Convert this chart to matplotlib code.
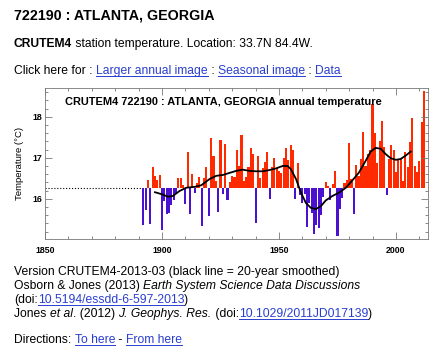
import numpy as np
import matplotlib
matplotlib.use('Agg')
import matplotlib.pyplot as plt
from matplotlib.ticker import MultipleLocator

plt.rcParams['font.family'] = ['Liberation Sans', 'DejaVu Sans']

# annual temperature, Atlanta (deg C), 1892-2012
years = list(range(1892, 2013))
temps = [
    15.35, 15.72, 16.46, 15.38, 16.77, 16.55, 16.45, 16.58,              # 1892-1899
    15.24, 15.95, 15.62, 15.65, 15.84, 15.98, 16.12, 16.50, 16.50, 16.33,  # 1900-1909
    15.88, 17.14, 15.62, 16.61, 16.15, 16.38, 16.52, 15.34, 16.51, 16.77,  # 1910-1919
    15.59, 17.48, 17.05, 16.44, 15.67, 17.44, 16.12, 17.33, 15.96, 16.40,  # 1920-1929
    16.55, 16.52, 17.20, 16.80, 17.55, 16.44, 16.52, 16.77, 17.24, 17.09,  # 1930-1939
    15.41, 17.04, 16.50, 16.75, 16.89, 17.13, 16.00, 16.77, 17.00, 16.74,  # 1940-1949
    16.68, 16.62, 17.00, 17.23, 16.95, 17.32, 17.20, 16.00, 16.86, 16.10,  # 1950-1959
    15.90, 16.12, 15.32, 15.90, 15.65, 15.14, 15.37, 15.30, 15.61, 16.05,  # 1960-1969
    16.40, 16.31, 15.98, 16.35, 16.68, 15.10, 15.74, 16.02, 16.38, 16.45,  # 1970-1979
    17.36, 16.48, 15.63, 16.82, 16.56, 16.97, 17.63, 16.81, 17.09, 17.20,  # 1980-1989
    18.30, 17.61, 16.87, 17.42, 17.89, 17.26, 16.10, 16.97, 17.30, 17.18,  # 1990-1999
    16.66, 16.97, 17.00, 16.44, 17.14, 16.77, 17.38, 17.96, 16.80, 16.66,  # 2000-2009
    16.93, 17.88, 18.63,                                                  # 2010-2012
]

# 20-year smoothed curve
smooth_years = [1897, 1900, 1902.6, 1904.7, 1907.5, 1910.4, 1913.9, 1916.8, 1920.3,
                1923.2, 1926, 1928.8, 1931.7, 1934.5, 1937.4, 1940.2, 1943, 1945.9,
                1948.7, 1951.6, 1953.7, 1955.1, 1957.3, 1959.4, 1961.5, 1963.6,
                1965.8, 1967.9, 1970, 1972.9, 1975.7, 1978.6, 1981.4, 1984.2,
                1987.1, 1989.2, 1991.3, 1993.5, 1995.6, 1997.7, 1999.9, 2002,
                2004.1, 2006.3]
smooth_temps = [16.16, 16.11, 16.05, 16.07, 16.19, 16.27, 16.29, 16.33, 16.48,
                16.56, 16.58, 16.63, 16.68, 16.71, 16.68, 16.67, 16.67, 16.70,
                16.74, 16.80, 16.80, 16.72, 16.48, 16.15, 15.90, 15.78,
                15.75, 15.82, 15.96, 16.07, 16.15, 16.27, 16.45, 16.64,
                16.93, 17.15, 17.24, 17.22, 17.09, 16.99, 16.95, 16.97,
                17.05, 17.15]

base = 16.27

W, H = 434, 356
fig = plt.figure(figsize=(W / 100, H / 100), dpi=100)
renderer = fig.canvas.get_renderer()

link = '#2a3fd0'
body = 8.7


def write(x, y, parts, size=body):
    # parts: (text, weight, style, is_link)
    for txt, weight, style, is_link in parts:
        t = fig.text(x / W, 1 - y / H, txt, fontsize=size, fontweight=weight,
                     fontstyle=style, color=link if is_link else 'black',
                     va='baseline', ha='left')
        bb = t.get_window_extent(renderer)
        if is_link:
            fig.add_artist(plt.Line2D([bb.x0 / W, bb.x1 / W],
                                      [1 - (y + 1.8) / H, 1 - (y + 1.8) / H],
                                      color=link, lw=0.7))
        x = bb.x1


write(14, 20, [('722190 : ATLANTA, GEORGIA', 'bold', 'normal', False)], 10.3)
write(14, 46.7, [('CRUTEM4', 'bold', 'normal', False),
                 (' station temperature. Location: 33.7N 84.4W.', 'normal', 'normal', False)])
write(14, 74, [('Click here for : ', 'normal', 'normal', False),
               ('Larger annual image', 'normal', 'normal', True),
               (' : ', 'normal', 'normal', False),
               ('Seasonal image', 'normal', 'normal', True),
               (' : ', 'normal', 'normal', False),
               ('Data', 'normal', 'normal', True)])

write(14, 275, [('Version CRUTEM4-2013-03 (black line = 20-year smoothed)', 'normal', 'normal', False)])
write(14, 289.3, [('Osborn & Jones (2013) ', 'normal', 'normal', False),
                  ('Earth System Science Data Discussions', 'normal', 'italic', False)])
write(14, 303.3, [('(doi:', 'normal', 'normal', False),
                  ('10.5194/essdd-6-597-2013', 'normal', 'normal', True),
                  (')', 'normal', 'normal', False)])
write(14, 317.3, [('Jones ', 'normal', 'normal', False),
                  ('et al', 'normal', 'italic', False),
                  ('. (2012) ', 'normal', 'normal', False),
                  ('J. Geophys. Res.', 'normal', 'italic', False),
                  (' (doi:', 'normal', 'normal', False),
                  ('10.1029/2011JD017139', 'normal', 'normal', True),
                  (')', 'normal', 'normal', False)])
write(14, 343.3, [('Directions: ', 'normal', 'normal', False),
                  ('To here', 'normal', 'normal', True),
                  (' - ', 'normal', 'normal', False),
                  ('From here', 'normal', 'normal', True)])

ax = fig.add_axes([45 / W, 1 - 239 / H, (428 - 45) / W, (239 - 88) / H])

colors = ['#ff2a00' if t >= base else '#4a12d0' for t in temps]
ax.bar(years, [t - base for t in temps], bottom=base, width=0.9,
       color=colors, linewidth=0)
ax.plot([1850, years[0] - 0.5], [base, base], color='black', ls=':', lw=0.8)
ax.plot(smooth_years, smooth_temps, color='black', lw=1.3)

ax.set_xlim(1850, 2013.7)
ax.set_ylim(15.02, 18.70)
ax.xaxis.set_major_locator(MultipleLocator(50))
ax.xaxis.set_minor_locator(MultipleLocator(10))
ax.yaxis.set_major_locator(MultipleLocator(1))
ax.yaxis.set_minor_locator(MultipleLocator(0.2))
ax.tick_params(which='both', direction='in', top=True, right=True,
               color='#777777', labelsize=6.3)
ax.tick_params(axis='x', pad=5)
ax.tick_params(axis='y', pad=2)
ax.tick_params(which='major', length=5, width=0.6)
ax.tick_params(which='minor', length=2.5, width=0.6)
for lab in ax.get_xticklabels() + ax.get_yticklabels():
    lab.set_fontweight('bold')
for s in ax.spines.values():
    s.set_color('#777777')
    s.set_linewidth(0.6)

ax.set_ylabel('Temperature (°C)', fontsize=6.8, labelpad=6)
ax.text(0.467, 0.909, 'CRUTEM4 722190 : ATLANTA, GEORGIA annual temperature',
        transform=ax.transAxes, ha='center', va='center', fontsize=7.9,
        fontweight='bold')

fig.savefig('out.png', dpi=100)
